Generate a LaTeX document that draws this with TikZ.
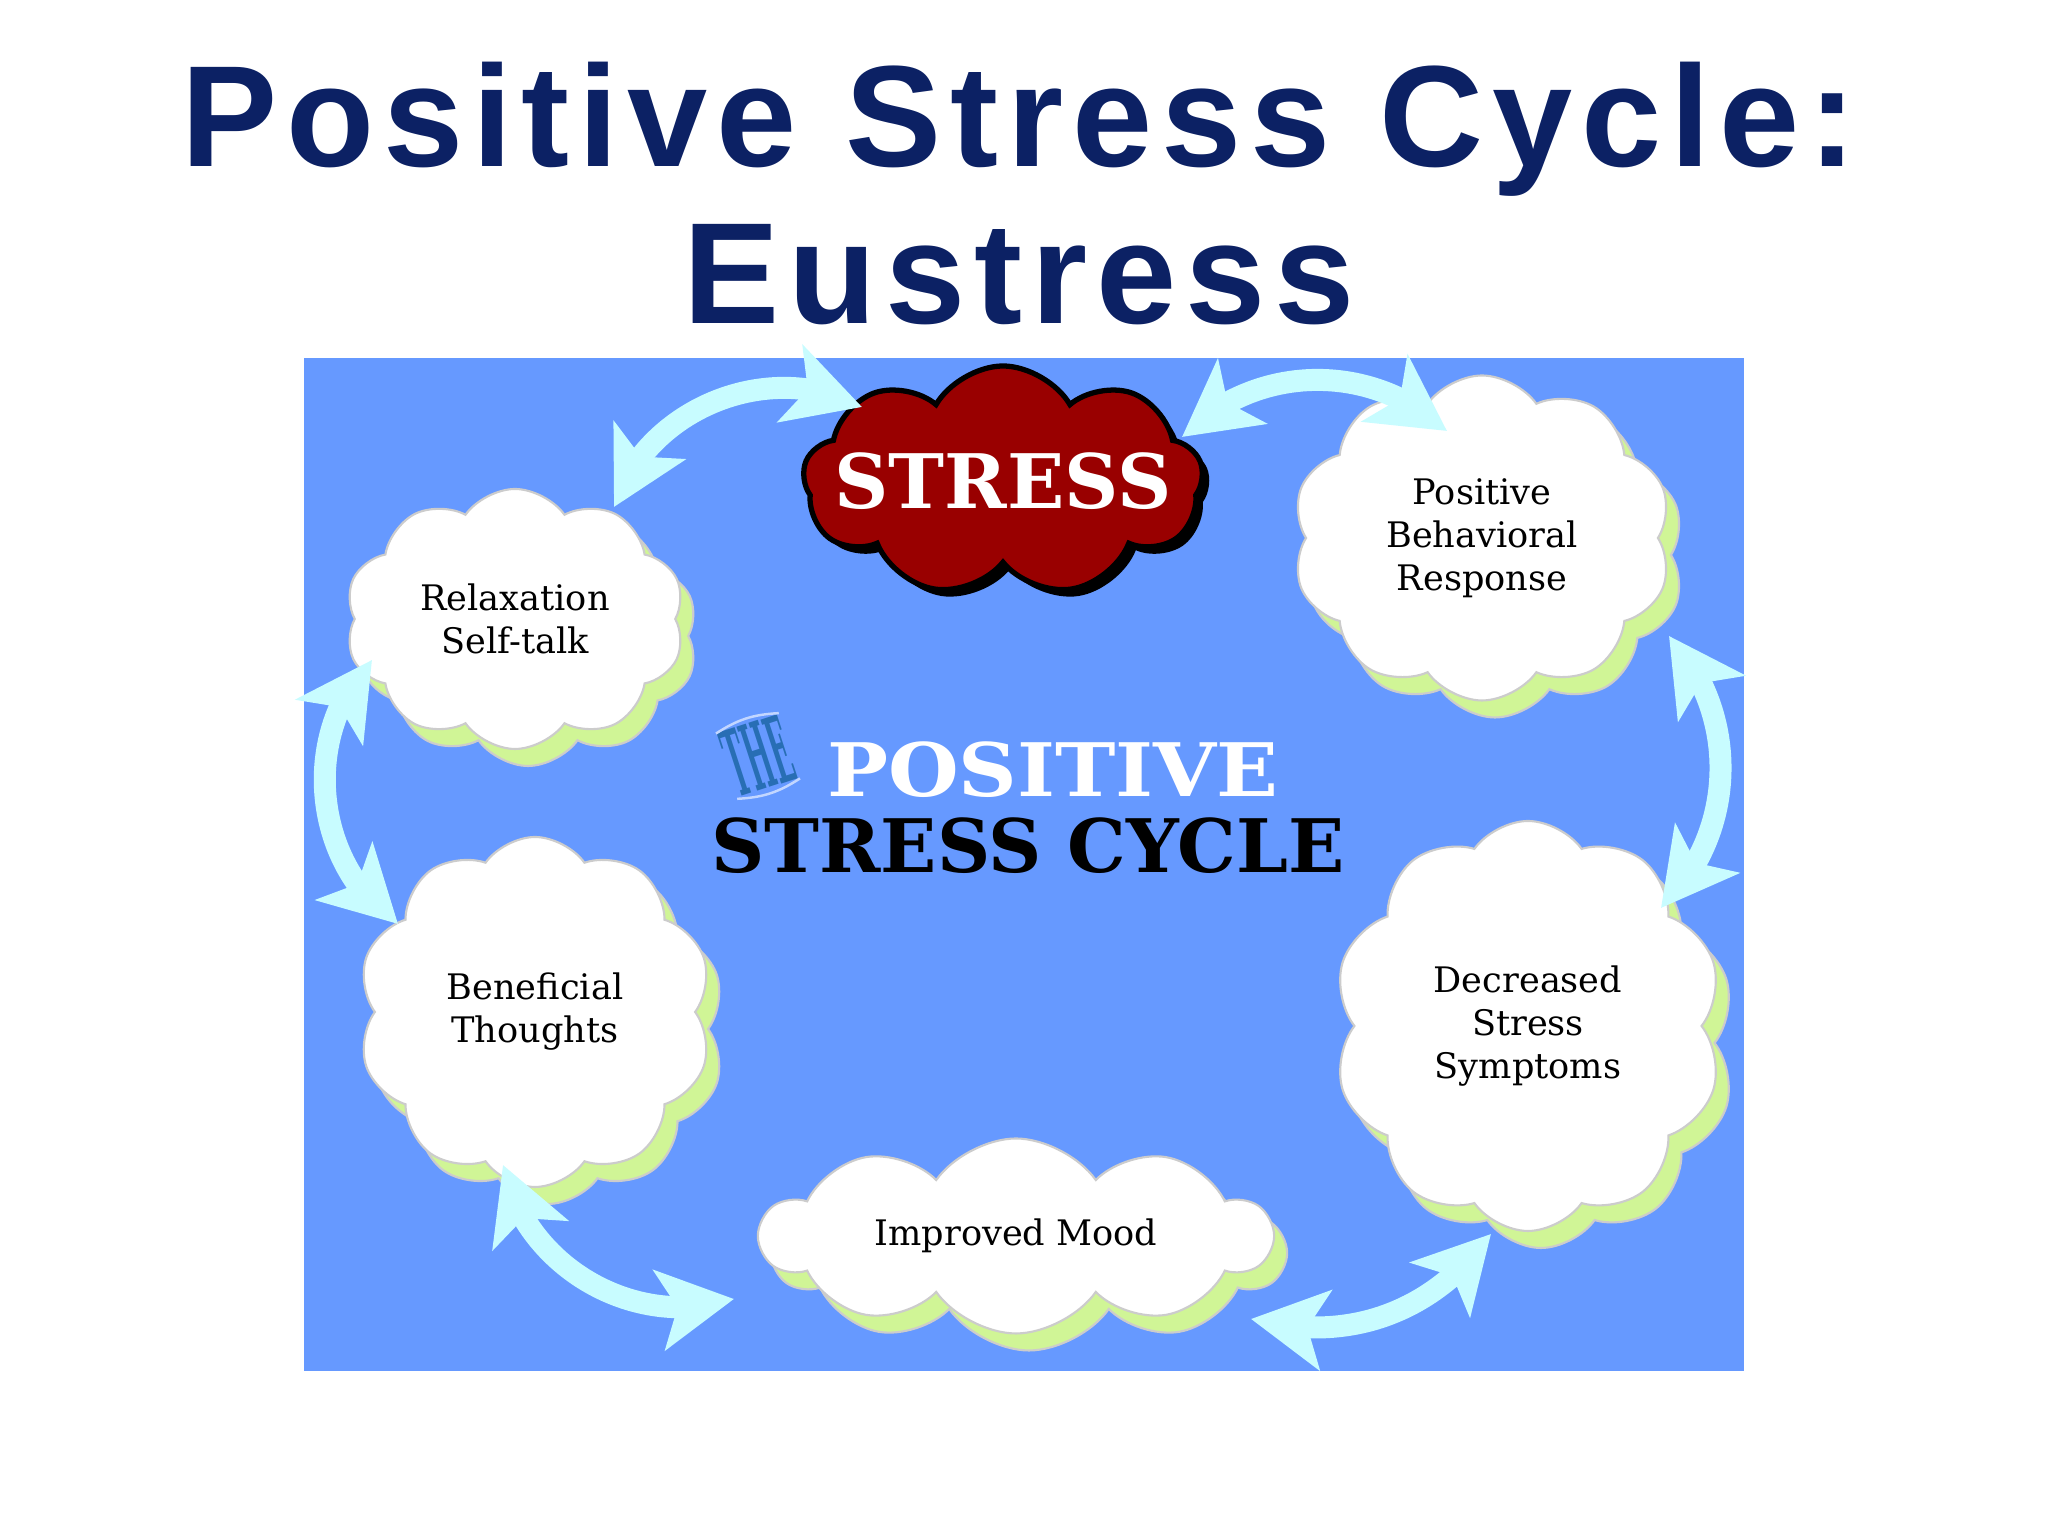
\documentclass[tikz,border=0pt]{standalone}
\usepackage{xcolor}
\usepackage{fontspec}
\usepackage{tikz}
\usetikzlibrary{positioning, shapes.symbols, shadows, arrows.meta, bending}

\newfontfamily\titlefont[LetterSpace=6.2]{Liberation Sans}
\newfontfamily\slabfont{DejaVu Serif}

\definecolor{navy}{RGB}{12,33,100}
\definecolor{sky}{RGB}{102,153,255}
\definecolor{puff}{RGB}{208,245,150}
\definecolor{flow}{RGB}{200,252,255}
\definecolor{alarm}{RGB}{153,0,0}
\definecolor{theblue}{RGB}{40,110,180}

\begin{document}
\begin{tikzpicture}[node distance = 0.3em, >={Stealth[length=0.75cm, width=0.8cm, inset=0.18cm]}]
            \tikzstyle{heading} = [font=\titlefont\bfseries\fontsize{41}{48}\selectfont, text=navy, inner sep=0pt, anchor=base]
            \tikzstyle{thought} = [cloud, cloud puffs=10, cloud puff arc=110, cloud ignores aspect, fill=white, draw=black!20, line width=0.6pt, align=center, inner sep=0pt, font=\slabfont\fontsize{10}{12.2}\selectfont, drop shadow={shadow xshift=0.13cm, shadow yshift=-0.17cm, fill=puff, draw=black!20, opacity=1}]
            \tikzstyle{danger} = [cloud, cloud puffs=9, cloud puff arc=120, cloud ignores aspect, fill=alarm, draw=black, line width=1.5pt, text=white, inner xsep=-0.4cm, inner ysep=0pt, font=\slabfont\bfseries\fontsize{21.4}{24}\selectfont, drop shadow={shadow xshift=0.07cm, shadow yshift=-0.07cm, fill=black, opacity=1}]
            \tikzstyle{banner} = [inner sep=0pt, font=\slabfont\bfseries\fontsize{21}{24}\selectfont]
            \tikzstyle{cyc} = [draw=flow, line width=0.22cm, <->]

            \useasboundingbox (0,0) rectangle (20.48,15.36);

            \node [heading] (T0) at (10.19, 13.69) {Positive Stress Cycle:};
            \node [heading] (T1) at (10.19, 12.12) {Eustress};

            \fill [sky] (3.04,1.65) rectangle (17.44,11.78);

            \node [danger, minimum width=4.0cm, minimum height=2.3cm] (C0) at (10.03, 10.55) {STRESS};
            \node [thought, minimum width=3.8cm, minimum height=3.25cm] (C1) at (14.82, 9.98) {Positive\\Behavioral\\Response};
            \node [thought, minimum width=3.9cm, minimum height=4.1cm] (C2) at (15.28, 5.10) {Decreased\\Stress\\Symptoms};
            \node [thought, minimum width=5.1cm, minimum height=1.95cm] (C3) at (10.16, 3.00) {Improved Mood};
            \node [thought, minimum width=3.55cm, minimum height=3.5cm] (C4) at (5.35, 5.24) {Beneficial\\Thoughts};
            \node [thought, minimum width=3.4cm, minimum height=2.6cm] (C5) at (5.15, 9.17) {Relaxation\\Self-talk};

            \node [banner, text=white] (H1) at (10.53, 7.66) {\scalebox{1.1}[1]{POSITIVE}};
            \node [banner, text=black] (H2) at (10.28, 6.90) {STRESS CYCLE};
            \node [rotate=18, text=theblue, inner sep=0pt, font=\slabfont\bfseries\fontsize{7.5}{8}\selectfont] (H0) at (7.58, 7.80) {\scalebox{1}[3.5]{THE}};
            \draw [white!60!sky, line width=0.7pt] (H0.north west) to [bend left=15] (H0.north east);
            \draw [white!60!sky, line width=0.7pt] (H0.south west) to [bend right=15] (H0.south east);

            \draw [cyc] ([shift={(0.99,1.12)}]C5.center) to [bend left=50] ([shift={(-1.41,0.74)}]C0.center);
            \draw [cyc] ([shift={(1.79,0.44)}]C0.center) to [bend left=44] ([shift={(-0.35,1.07)}]C1.center);
            \draw [cyc] ([shift={(1.87,-0.98)}]C1.center) to [bend left=44] ([shift={(1.33,1.18)}]C2.center);
            \draw [cyc] ([shift={(2.35,-0.83)}]C3.center) to [bend right=34] ([shift={(-0.37,-2.08)}]C2.center);
            \draw [cyc] ([shift={(-0.32,-1.53)}]C4.center) to [bend right=48] ([shift={(-2.82,-0.63)}]C3.center);
            \draw [cyc] ([shift={(-1.43,-0.41)}]C5.center) to [bend right=50] ([shift={(-1.37,0.88)}]C4.center);
        \end{tikzpicture}
\end{document}
